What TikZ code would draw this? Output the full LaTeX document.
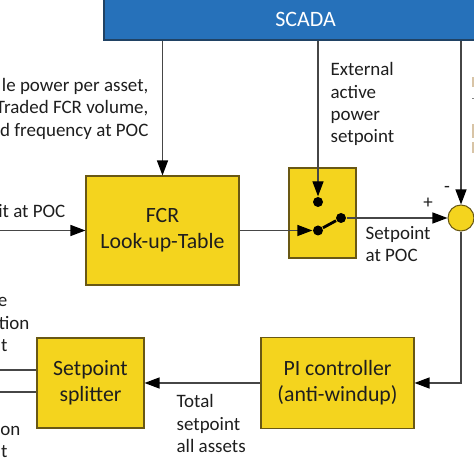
\documentclass[tikz,border=0pt]{standalone}
\usepackage{fontspec}
\setmainfont{Carlito}
\usetikzlibrary{arrows.meta}

\definecolor{fcryellow}{RGB}{244,212,30}
\definecolor{boxedge}{RGB}{105,88,20}
\definecolor{scadablue}{RGB}{38,113,186}
\definecolor{scadaedge}{RGB}{32,66,100}
\definecolor{wire}{RGB}{70,70,70}
\definecolor{cuttan}{RGB}{216,196,166}
\definecolor{ink}{RGB}{30,30,30}

\tikzset{
  block/.style={draw=boxedge,fill=fcryellow,line width=0.6pt,align=center,
    font=\fontsize{12.4}{15}\selectfont,text=ink,inner sep=0pt},
  lbl/.style={font=\fontsize{10.8}{12.8}\selectfont,text=ink,inner sep=0pt},
  dot/.style={circle,fill=black,inner sep=0pt,minimum size=0.2cm},
}

\begin{document}
\begin{tikzpicture}[line width=0.7pt,draw=wire,>={Triangle[length=3mm,width=2.2mm,color=black]}]
\useasboundingbox (0,0) rectangle (9.48,9.48);
\clip (0,0) rectangle (9.48,9.48);

% SCADA bar (runs off the right edge)
\node[draw=scadaedge,fill=scadablue,line width=0.8pt,minimum width=8cm,minimum height=0.92cm,inner sep=0pt] (scada) at (6.08,9.14) {};
\node[anchor=base,text=white,font=\fontsize{12.5}{15}\selectfont,inner sep=0pt] (scadalbl) at (6.11,8.94) {SCADA};

% blocks
\node[block,minimum width=3.06cm,minimum height=2.18cm] (fcr) at (3.25,4.87) {FCR\\Look-up-Table};
\node[block,minimum width=1.34cm,minimum height=1.80cm] (swbox) at (6.45,5.22) {};
\node[block,minimum width=3.06cm,minimum height=1.82cm] (pi) at (6.75,1.82) {PI controller\\(anti-windup)};
\node[block,minimum width=2.14cm,minimum height=1.80cm] (split) at (1.81,1.82) {Setpoint\\splitter};

% summing point
\node[circle,draw=boxedge,fill=fcryellow,line width=0.6pt,minimum size=0.52cm,inner sep=0pt] (sum) at (9.22,5.12) {};

% switch contacts
\node[dot] (sw1) at (6.36,5.44) {};
\node[dot] (sw2) at (6.36,4.87) {};
\node[dot] (sw3) at (6.82,5.12) {};
\draw[line width=1.6pt,black] (sw2) -- (sw3);

% free ends
\coordinate (in) at (-0.2,4.87);
\coordinate (out1) at (-0.2,2.08);
\coordinate (out2) at (-0.2,1.64);

% connectors
\draw[->] (scada.south -| fcr.north) -- (fcr.north);
\draw[->] (scada.south -| sw1) -- (sw1.north);
\draw[->] (scada.south -| sum) -- (sum.north);
\draw[->] (in) -- (fcr.west);
\draw[->] (fcr.east) -- (sw2.west);
\draw[->] (sw3.east) -- (sum.west);
\draw[->] (sum.south) |- (pi.east);
\draw[->] (pi.west) -- (split.east);
\draw (split.west |- out1) -- (out1);
\draw (split.west |- out2) -- (out2);

% signs at the summing point
\node[lbl] (plus) at (8.56,5.42) {+};
\node[lbl] (minus) at (8.94,5.70) {-};

% labels
\node[lbl,anchor=base east] (avail1) at (2.98,7.64) {le power per asset,};
\node[lbl,anchor=base east] (avail2) at (2.98,7.20) {Traded FCR volume,};
\node[lbl,anchor=base east] (avail3) at (2.98,6.74) {d frequency at POC};
\node[lbl,anchor=base east] (inlbl) at (1.32,5.12) {it at POC};

\node[lbl,anchor=base west] (ext1) at (6.60,7.96) {External};
\node[lbl,anchor=base west] (ext2) at (6.60,7.50) {active};
\node[lbl,anchor=base west] (ext3) at (6.60,7.06) {power};
\node[lbl,anchor=base west] (ext4) at (6.60,6.62) {setpoint};

\node[lbl,anchor=base west] (poc1) at (7.30,4.68) {Setpoint};
\node[lbl,anchor=base west] (poc2) at (7.30,4.24) {at POC};

\node[lbl,anchor=base west] (tot1) at (3.52,1.32) {Total};
\node[lbl,anchor=base west] (tot2) at (3.52,0.87) {setpoint};
\node[lbl,anchor=base west] (tot3) at (3.52,0.42) {all assets};

\node[lbl,anchor=base east] (outa1) at (0.16,3.34) {e};
\node[lbl,anchor=base east] (outa2) at (0.60,2.88) {tion};
\node[lbl,anchor=base east] (outa3) at (0.16,2.44) {ut};
\node[lbl,anchor=base east] (outb1) at (0.42,0.76) {on};
\node[lbl,anchor=base east] (outb2) at (0.16,0.32) {ut};

% cut-off marks at the right edge
\fill[cuttan] (9.43,7.74) rectangle (9.48,7.94);
\fill[gray] (9.43,7.49) rectangle (9.48,7.52);
\fill[cuttan] (9.43,6.72) rectangle (9.48,7.00);
\fill[cuttan] (9.43,6.42) rectangle (9.48,6.64);
\end{tikzpicture}
\end{document}
